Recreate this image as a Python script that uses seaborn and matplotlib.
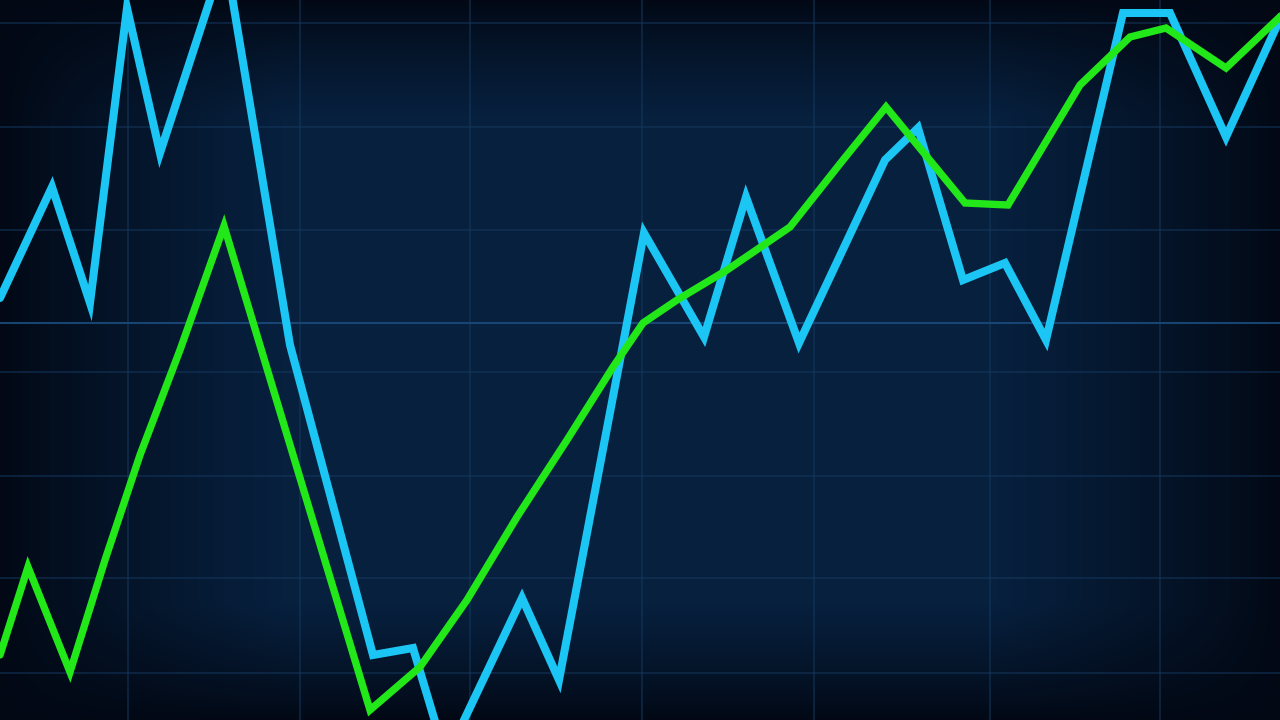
import numpy as np
import pandas as pd
import matplotlib
matplotlib.use('Agg')
import matplotlib.pyplot as plt
import seaborn as sns

#%% data (x = time, y = price, both in chart units)

cyan_t = [0, 52, 90, 127, 160, 225, 290, 373, 413, 446, 522, 559, 620, 644,
          704, 746, 799, 885, 918, 963, 1005, 1046, 1123, 1170, 1226, 1285]
cyan_price = [422, 533, 417, 712, 567, 766, 375, 65, 72, -38, 122, 40, 360, 487,
              383, 523, 377, 560, 592, 440, 457, 380, 707, 707, 583, 712]

green_t = [0, 28, 70, 105, 140, 180, 224, 370, 420, 467, 517, 567, 613, 643,
           677, 727, 790, 843, 886, 965, 1008, 1080, 1130, 1166, 1226, 1285]
green_price = [65, 153, 48, 160, 265, 370, 494, 10, 53, 120, 203, 280, 353, 397,
               420, 450, 493, 560, 613, 517, 515, 635, 683, 692, 652, 708]

grid_x = [128, 300, 470, 642, 814, 990, 1160]
grid_y = [47, 142, 244, 348, 397, 490, 593, 697]
bright_y = [397]

cyan_df = pd.DataFrame({'t': cyan_t, 'price': cyan_price})
green_df = pd.DataFrame({'t': green_t, 'price': green_price})

#%% background: dark navy with a vignette

sns.set_style('dark')
fig = plt.figure(figsize=(12.8, 7.2), dpi=100)
ax = fig.add_axes([0, 0, 1, 1])

u = np.linspace(0, 1, 640)
v = np.linspace(0, 1, 360)
U, V = np.meshgrid(u, v)
fx = np.clip(np.minimum(U, 1 - U) / 0.22, 0, 1) ** 0.8
fy = np.clip(np.minimum(V, 1 - V) / 0.16, 0, 1) ** 0.8
f = (fx * fy)[..., None]
edge = np.array([2, 8, 20]) / 255
center = np.array([7, 32, 62]) / 255
bg = edge + (center - edge) * f
ax.imshow(bg, extent=[0, 1280, 0, 720], aspect='auto', zorder=0, origin='lower')

#%% grid

ax.set_xticks(grid_x)
ax.set_yticks(grid_y)
ax.grid(True, color='#14385f', linewidth=1.2, alpha=0.6)
ax.set_axisbelow(True)
for yb in bright_y:
    ax.axhline(yb, color='#1a4878', linewidth=1.5, alpha=0.9, zorder=0.6)
ax.tick_params(length=0, labelbottom=False, labelleft=False)
for s in ax.spines.values():
    s.set_visible(False)

#%% lines

sns.lineplot(data=cyan_df, x='t', y='price', ax=ax, color='#1cc6f4',
             linewidth=5.8, solid_joinstyle='miter', zorder=2)
sns.lineplot(data=green_df, x='t', y='price', ax=ax, color='#22e81a',
             linewidth=5.3, solid_joinstyle='miter', zorder=3)

ax.set_xlim(0, 1280)
ax.set_ylim(0, 720)
ax.set_xlabel('')
ax.set_ylabel('')

plt.savefig('out.png', dpi=100)
